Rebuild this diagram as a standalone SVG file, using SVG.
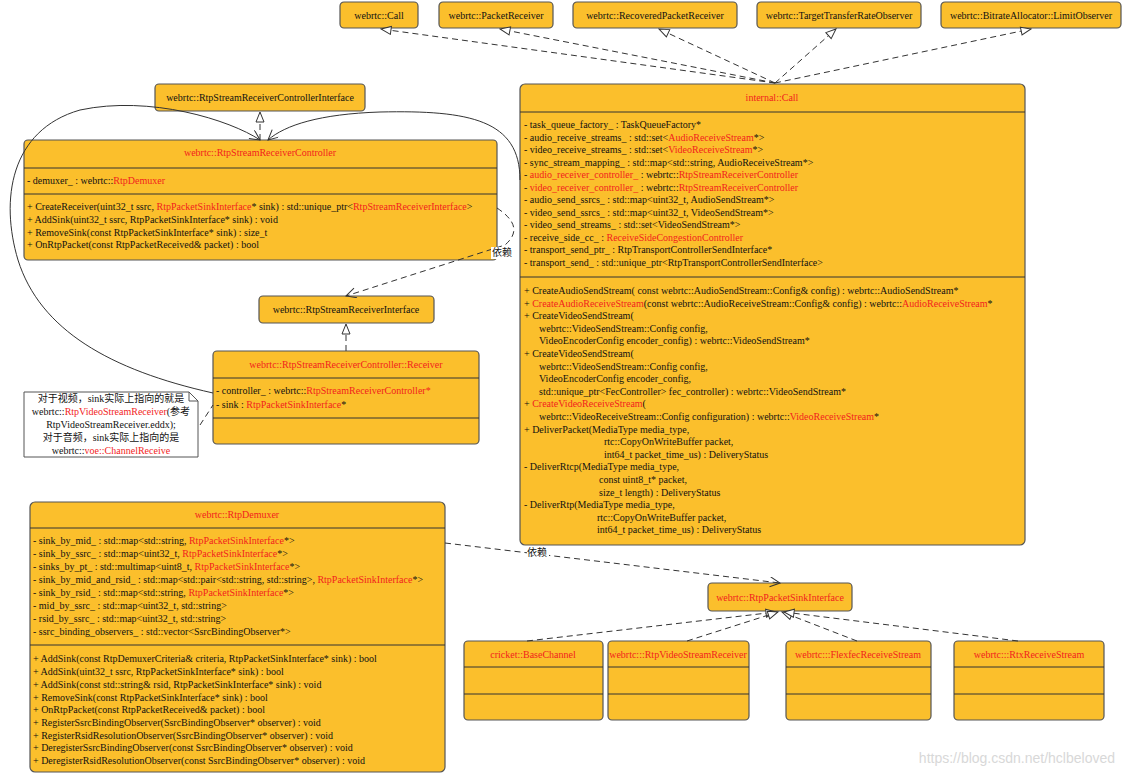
<svg xmlns="http://www.w3.org/2000/svg" width="1124" height="775" viewBox="0 0 1124 775">
<style>
.b{fill:#fbbf2c;stroke:#555;stroke-width:1.2}
.s{stroke:#333;stroke-width:1}
text{font-family:"Liberation Serif","Noto Sans CJK SC",serif;font-size:10px;fill:#111}
.c{text-anchor:middle}
.r{fill:#f21d1d}
.d{fill:none;stroke:#333;stroke-width:1;stroke-dasharray:6,4}
.l{fill:none;stroke:#333;stroke-width:1}
</style>
<defs>
<marker id="tri" markerWidth="12" markerHeight="12" refX="11" refY="5" orient="auto" markerUnits="userSpaceOnUse"><path d="M1,1 L11,5 L1,9 Z" fill="#fff" stroke="#333"/></marker>
<marker id="open" markerWidth="12" markerHeight="12" refX="11" refY="5" orient="auto" markerUnits="userSpaceOnUse"><path d="M1,0 L11,5 L1,10" fill="none" stroke="#333"/></marker>
</defs>
<rect width="1124" height="775" fill="#fff"/>

<g id="n-call"><rect class="b" x="340" y="2" width="78" height="26" rx="4"/><text class="c" x="379" y="19">webrtc::Call</text></g>
<g id="n-packetreceiver"><rect class="b" x="439" y="2" width="114" height="26" rx="4"/><text class="c" x="496" y="19">webrtc::PacketReceiver</text></g>
<g id="n-recovered"><rect class="b" x="573" y="2" width="164" height="26" rx="4"/><text class="c" x="655" y="19">webrtc::RecoveredPacketReceiver</text></g>
<g id="n-target"><rect class="b" x="757" y="2" width="164" height="26" rx="4"/><text class="c" x="839" y="19">webrtc::TargetTransferRateObserver</text></g>
<g id="n-limit"><rect class="b" x="941" y="2" width="180" height="26" rx="4"/><text class="c" x="1031" y="19">webrtc::BitrateAllocator::LimitObserver</text></g>

<g id="n-internalcall">
<rect class="b" x="520" y="84" width="505" height="461" rx="5"/>
<line class="s" x1="520" y1="112" x2="1025" y2="112"/><line class="s" x1="520" y1="277" x2="1025" y2="277"/>
<text class="c r" x="772" y="101">internal::Call</text>
<text x="524" y="128">- task_queue_factory_ : TaskQueueFactory*</text>
<text x="524" y="140.5">- audio_receive_streams_ : std::set&lt;<tspan class="r">AudioReceiveStream</tspan>*&gt;</text>
<text x="524" y="153">- video_receive_streams_ : std::set&lt;<tspan class="r">VideoReceiveStream</tspan>*&gt;</text>
<text x="524" y="165.5">- sync_stream_mapping_ : std::map&lt;std::string, AudioReceiveStream*&gt;</text>
<text x="524" y="178">- <tspan class="r">audio_receiver_controller_</tspan> : webrtc::<tspan class="r">RtpStreamReceiverController</tspan></text>
<text x="524" y="190.5">- <tspan class="r">video_receiver_controller_</tspan> : webrtc::<tspan class="r">RtpStreamReceiverController</tspan></text>
<text x="524" y="203">- audio_send_ssrcs_ : std::map&lt;uint32_t, AudioSendStream*&gt;</text>
<text x="524" y="215.5">- video_send_ssrcs_ : std::map&lt;uint32_t, VideoSendStream*&gt;</text>
<text x="524" y="228">- video_send_streams_ : std::set&lt;VideoSendStream*&gt;</text>
<text x="524" y="240.5">- receive_side_cc_ : <tspan class="r">ReceiveSideCongestionController</tspan></text>
<text x="524" y="253">- transport_send_ptr_ : RtpTransportControllerSendInterface*</text>
<text x="524" y="265.5">- transport_send_ : std::unique_ptr&lt;RtpTransportControllerSendInterface&gt;</text>
<text x="524" y="294">+ CreateAudioSendStream( const webrtc::AudioSendStream::Config&amp; config) : webrtc::AudioSendStream*</text>
<text x="524" y="306.6">+ <tspan class="r">CreateAudioReceiveStream</tspan>(const webrtc::AudioReceiveStream::Config&amp; config)  : webrtc::<tspan class="r">AudioReceiveStream</tspan>*</text>
<text x="524" y="319.2">+ CreateVideoSendStream(</text>
<text x="539" y="331.8">webrtc::VideoSendStream::Config config,</text>
<text x="539" y="344.4">VideoEncoderConfig encoder_config)  : webrtc::VideoSendStream*</text>
<text x="524" y="357">+ CreateVideoSendStream(</text>
<text x="539" y="369.6">webrtc::VideoSendStream::Config config,</text>
<text x="539" y="382.2">VideoEncoderConfig encoder_config,</text>
<text x="539" y="394.8">std::unique_ptr&lt;FecController&gt; fec_controller) : webrtc::VideoSendStream*</text>
<text x="524" y="407.4">+ <tspan class="r">CreateVideoReceiveStream</tspan>(</text>
<text x="539" y="420">webrtc::VideoReceiveStream::Config configuration) : webrtc::<tspan class="r">VideoReceiveStream</tspan>*</text>
<text x="524" y="432.6">+ DeliverPacket(MediaType media_type,</text>
<text x="604" y="445.2">rtc::CopyOnWriteBuffer packet,</text>
<text x="604" y="457.8">int64_t packet_time_us) : DeliveryStatus</text>
<text x="524" y="470.4">- DeliverRtcp(MediaType media_type,</text>
<text x="599" y="483">const uint8_t* packet,</text>
<text x="599" y="495.6">size_t length) : DeliveryStatus</text>
<text x="524" y="508.2">- DeliverRtp(MediaType media_type,</text>
<text x="597" y="520.8">rtc::CopyOnWriteBuffer packet,</text>
<text x="597" y="533.4">int64_t packet_time_us) : DeliveryStatus</text>
</g>

<g id="n-ctrlif"><rect class="b" x="155" y="84" width="210" height="27" rx="4"/><text class="c" x="260" y="101">webrtc::RtpStreamReceiverControllerInterface</text></g>

<g id="n-ctrl">
<rect class="b" x="24" y="140" width="473" height="120" rx="4"/>
<line class="s" x1="24" y1="168" x2="497" y2="168"/><line class="s" x1="24" y1="194" x2="497" y2="194"/>
<text class="c r" x="260" y="156">webrtc::RtpStreamReceiverController</text>
<text x="27" y="184">- demuxer_ : webrtc::<tspan class="r">RtpDemuxer</tspan></text>
<text x="27" y="210">+ CreateReceiver(uint32_t ssrc, <tspan class="r">RtpPacketSinkInterface</tspan>* sink) : std::unique_ptr&lt;<tspan class="r">RtpStreamReceiverInterface</tspan>&gt;</text>
<text x="27" y="223">+ AddSink(uint32_t ssrc, RtpPacketSinkInterface* sink) : void</text>
<text x="27" y="235.5">+ RemoveSink(const RtpPacketSinkInterface* sink) : size_t</text>
<text x="27" y="248">+ OnRtpPacket(const RtpPacketReceived&amp; packet) : bool</text>
</g>

<g id="n-rsrif"><rect class="b" x="259" y="296" width="175" height="27" rx="4"/><text class="c" x="346" y="313">webrtc::RtpStreamReceiverInterface</text></g>

<g id="n-receiver">
<rect class="b" x="213" y="351" width="266" height="93" rx="4"/>
<line class="s" x1="213" y1="378" x2="479" y2="378"/><line class="s" x1="213" y1="418" x2="479" y2="418"/>
<text class="c r" x="346" y="368">webrtc::RtpStreamReceiverController::Receiver</text>
<text x="216" y="394">- controller_ : webrtc::<tspan class="r">RtpStreamReceiverController</tspan><tspan class="r">*</tspan></text>
<text x="216" y="407.5">- sink : <tspan class="r">RtpPacketSinkInterface</tspan>*</text>
</g>

<g id="n-note">
<path d="M24,392 H189 L198,401 V457 H24 Z" fill="#fff" stroke="#555"/>
<path d="M189,392 V401 H198" fill="none" stroke="#555"/>
<text class="c" x="111" y="402">对于视频，sink实际上指向的就是</text>
<text class="c" x="111" y="415">webrtc::<tspan class="r">RtpVideoStreamReceiver</tspan>(参考</text>
<text class="c" x="111" y="428">RtpVideoStreamReceiver.eddx);</text>
<text class="c" x="111" y="441">对于音频，sink实际上指向的是</text>
<text class="c" x="111" y="454">webrtc::<tspan class="r">voe::ChannelReceive</tspan></text>
</g>

<g id="n-demuxer">
<rect class="b" x="30" y="502" width="415" height="270" rx="5"/>
<line class="s" x1="30" y1="528" x2="445" y2="528"/><line class="s" x1="30" y1="645" x2="445" y2="645"/>
<text class="c r" x="237" y="518">webrtc::RtpDemuxer</text>
<text x="33" y="544">- sink_by_mid_ : std::map&lt;std::string, <tspan class="r">RtpPacketSinkInterface</tspan>*&gt;</text>
<text x="33" y="557">- sink_by_ssrc_ : std::map&lt;uint32_t, <tspan class="r">RtpPacketSinkInterface</tspan>*&gt;</text>
<text x="33" y="570">- sinks_by_pt_ : std::multimap&lt;uint8_t, <tspan class="r">RtpPacketSinkInterface</tspan>*&gt;</text>
<text x="33" y="583">- sink_by_mid_and_rsid_ : std::map&lt;std::pair&lt;std::string, std::string&gt;, <tspan class="r">RtpPacketSinkInterface</tspan>*&gt;</text>
<text x="33" y="596">- sink_by_rsid_ : std::map&lt;std::string, <tspan class="r">RtpPacketSinkInterface</tspan>*&gt;</text>
<text x="33" y="609">- mid_by_ssrc_ : std::map&lt;uint32_t, std::string&gt;</text>
<text x="33" y="622">- rsid_by_ssrc_ : std::map&lt;uint32_t, std::string&gt;</text>
<text x="33" y="635">- ssrc_binding_observers_ : std::vector&lt;SsrcBindingObserver*&gt;</text>
<text x="33" y="662">+ AddSink(const RtpDemuxerCriteria&amp; criteria, RtpPacketSinkInterface* sink) : bool</text>
<text x="33" y="675">+ AddSink(uint32_t ssrc, RtpPacketSinkInterface* sink) : bool</text>
<text x="33" y="687.5">+ AddSink(const std::string&amp; rsid, RtpPacketSinkInterface* sink) : void</text>
<text x="33" y="700.5">+ RemoveSink(const RtpPacketSinkInterface* sink) : bool</text>
<text x="33" y="713">+ OnRtpPacket(const RtpPacketReceived&amp; packet) : bool</text>
<text x="33" y="725.5">+ RegisterSsrcBindingObserver(SsrcBindingObserver* observer) : void</text>
<text x="33" y="738.5">+ RegisterRsidResolutionObserver(SsrcBindingObserver* observer) : void</text>
<text x="33" y="751">+ DeregisterSsrcBindingObserver(const SsrcBindingObserver* observer) : void</text>
<text x="33" y="764">+ DeregisterRsidResolutionObserver(const SsrcBindingObserver* observer) : void</text>
</g>

<g id="n-sinkif"><rect class="b" x="708" y="583" width="144" height="28" rx="4"/><text class="c r" x="780" y="601">webrtc::RtpPacketSinkInterface</text></g>

<g id="n-basechannel"><rect class="b" x="464" y="641" width="139" height="79" rx="4"/><line class="s" x1="464" y1="667" x2="603" y2="667"/><line class="s" x1="464" y1="694" x2="603" y2="694"/><text class="c r" x="533" y="658">cricket::BaseChannel</text></g>
<g id="n-rvsr"><rect class="b" x="608" y="641" width="141" height="79" rx="4"/><line class="s" x1="608" y1="667" x2="749" y2="667"/><line class="s" x1="608" y1="694" x2="749" y2="694"/><text class="c r" x="678" y="658">webrtc:::RtpVideoStreamReceiver</text></g>
<g id="n-flexfec"><rect class="b" x="786" y="641" width="145" height="79" rx="4"/><line class="s" x1="786" y1="667" x2="931" y2="667"/><line class="s" x1="786" y1="694" x2="931" y2="694"/><text class="c r" x="858" y="658">webrtc:::FlexfecReceiveStream</text></g>
<g id="n-rtx"><rect class="b" x="954" y="641" width="150" height="79" rx="4"/><line class="s" x1="954" y1="667" x2="1104" y2="667"/><line class="s" x1="954" y1="694" x2="1104" y2="694"/><text class="c r" x="1029" y="658">webrtc:::RtxReceiveStream</text></g>

<g id="connectors">
<path class="d" d="M775,83 L381,29" marker-end="url(#tri)"/>
<path class="d" d="M775,83 L500,29" marker-end="url(#tri)"/>
<path class="d" d="M775,83 L659,29" marker-end="url(#tri)"/>
<path class="d" d="M775,83 L836,29" marker-end="url(#tri)"/>
<path class="d" d="M775,83 L1031,29" marker-end="url(#tri)"/>
<path class="d" d="M260,140 L260,112" marker-end="url(#tri)"/>
<path class="d" d="M346,351 L346,324" marker-end="url(#tri)"/>
<path class="d" d="M497,208 C515,220 520,232 505,245 L346,296" marker-end="url(#open)"/>
<path class="l" d="M213,393 C110,370 40,330 18,260 C0,200 10,130 80,110 C150,95 230,120 260,140" marker-end="url(#open)"/>
<path class="l" d="M520,180 C520,120 470,110 380,112 C320,114 285,125 268,140" marker-end="url(#open)"/>
<path class="d" d="M200,425 L213,405"/>
<path class="d" d="M445,543 L780,583" marker-end="url(#open)"/>
<path class="d" d="M527,641 L776,612" marker-end="url(#tri)"/>
<path class="d" d="M687,641 L778,612" marker-end="url(#tri)"/>
<path class="d" d="M857,641 L782,612" marker-end="url(#tri)"/>
<path class="d" d="M1018,641 L784,612" marker-end="url(#tri)"/>
<rect x="491" y="247" width="24" height="12" fill="#fff"/>
<text x="492" y="256">依赖</text>
<rect x="527" y="547" width="22" height="12" fill="#fff"/>
<text x="527" y="556">依赖</text>
</g>
<text x="1115" y="763" text-anchor="end" style="font-family:'Liberation Sans',sans-serif;font-size:14px;fill:#d8d8d8">https://blog.csdn.net/hclbeloved</text>
</svg>
